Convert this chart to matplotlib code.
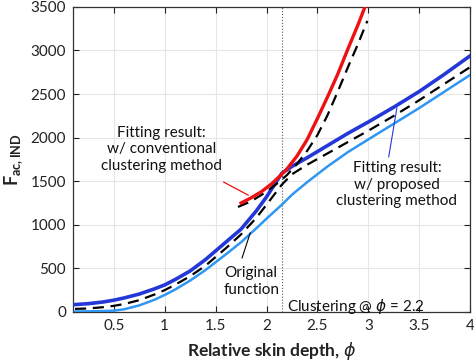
import matplotlib
matplotlib.use("Agg")
import matplotlib.pyplot as plt

plt.rcParams['font.family'] = ['Lato', 'DejaVu Sans']
plt.rcParams['mathtext.fontset'] = 'custom'
plt.rcParams['mathtext.rm'] = 'Lato'
plt.rcParams['mathtext.it'] = 'DejaVu Sans:italic'
plt.rcParams['mathtext.bf'] = 'Lato:bold'

# ---- data ----
phi = [0.12, 0.25, 0.4, 0.5, 0.6, 0.75, 0.9, 1.0, 1.1, 1.25, 1.4, 1.5, 1.6, 1.75,
       1.9, 2.0, 2.15, 2.25, 2.4, 2.6, 2.8, 3.0, 3.25, 3.5, 3.75, 4.0]
proposed_fit = [85, 95, 115, 135, 160, 205, 265, 310, 370, 470, 600, 700, 800, 950,
                1160, 1320, 1590, 1670, 1770, 1910, 2050, 2180, 2350, 2530, 2730, 2940]
original = [35, 40, 55, 70, 90, 135, 200, 250, 310, 410, 530, 630, 730, 890,
            1080, 1230, 1460, 1580, 1690, 1820, 1950, 2080, 2250, 2430, 2620, 2810]
proposed_fit2 = [5, 7, 10, 15, 30, 75, 140, 195, 255, 360, 480, 570, 660, 800,
                 960, 1070, 1230, 1345, 1490, 1670, 1835, 1980, 2160, 2340, 2530, 2720]

phi_conv = [1.75, 1.85, 1.95, 2.05, 2.15, 2.2, 2.3, 2.4, 2.5, 2.6, 2.7, 2.8, 2.9, 3.0]
conventional_fit = [1250, 1310, 1380, 1470, 1580, 1640, 1790, 1980, 2220, 2470, 2730, 3020, 3300, 3600]

phi_orig2 = [1.72, 1.85, 2.0, 2.1, 2.2, 2.3, 2.4, 2.5, 2.6, 2.7, 2.8, 2.9, 2.99]
original2 = [1205, 1270, 1380, 1470, 1570, 1700, 1850, 2030, 2260, 2530, 2810, 3080, 3340]

x_ticks = [0.5, 1, 1.5, 2, 2.5, 3, 3.5, 4]
x_ticklabels = ['0.5', '1', '1.5', '2', '2.5', '3', '3.5', '4']
y_ticks = [0, 500, 1000, 1500, 2000, 2500, 3000, 3500]
cluster_phi = 2.15

fig = plt.figure(figsize=(4.74, 3.64), dpi=100)
ax = fig.add_axes([0.154, 0.143, 0.838, 0.838])

ax.plot(phi, proposed_fit2, color='#2f96f2', lw=1.8, zorder=3)
ax.plot(phi, proposed_fit, color='#2438d8', lw=2.6, zorder=4)
ax.plot(phi, original, color='black', lw=1.6, ls=(0, (5, 3)), zorder=5)
ax.plot(phi_orig2, original2, color='black', lw=1.6, ls=(0, (5, 3)), zorder=5)
ax.plot(phi_conv, conventional_fit, color='#ee1111', lw=2.4, zorder=6)
ax.axvline(cluster_phi, color='#555555', lw=0.8, ls=':', zorder=2)

ax.set_xlim(0.1, 4)
ax.set_ylim(0, 3500)
ax.set_xticks(x_ticks)
ax.set_xticklabels(x_ticklabels)
ax.set_yticks(y_ticks)
ax.grid(True, color='#e6e6e6', lw=0.8)
ax.set_axisbelow(True)
ax.tick_params(direction='in', top=True, right=True, length=4, labelsize=11,
               colors='#222222', pad=5)
for s in ax.spines.values():
    s.set_color('#333333')
    s.set_linewidth(0.9)

ax.set_xlabel(r'Relative skin depth, $\phi$', fontsize=12.5, fontweight='bold',
              color='#222222', labelpad=5)
ax.set_ylabel(r'$\mathbf{F}_{\mathbf{ac,IND}}$', fontsize=13, color='#222222', labelpad=4)

# annotations
ax.text(0.97, 1865, 'Fitting result:\nw/ conventional\nclustering method', ha='center', va='center',
        fontsize=11, linespacing=1.25, color='#111111')
ax.plot([1.58, 1.82], [1490, 1340], color='#ee1111', lw=0.9, zorder=6)

ax.text(3.28, 1460, 'Fitting result:\nw/ proposed\nclustering method', ha='center', va='center',
        fontsize=11, linespacing=1.25, color='#111111')
ax.plot([3.2, 3.28], [1780, 2340], color='#2438d8', lw=0.8, zorder=6)

ax.text(1.85, 350, 'Original\nfunction', ha='center', va='center',
        fontsize=11, linespacing=1.25, color='#111111')
ax.plot([1.76, 1.84], [620, 907], color='black', lw=0.8, zorder=6)

ax.text(2.2, 60, r'Clustering @ $\phi$ = 2.2', ha='left', va='center', fontsize=11, color='#111111')

fig.savefig('out.png', dpi=100)
